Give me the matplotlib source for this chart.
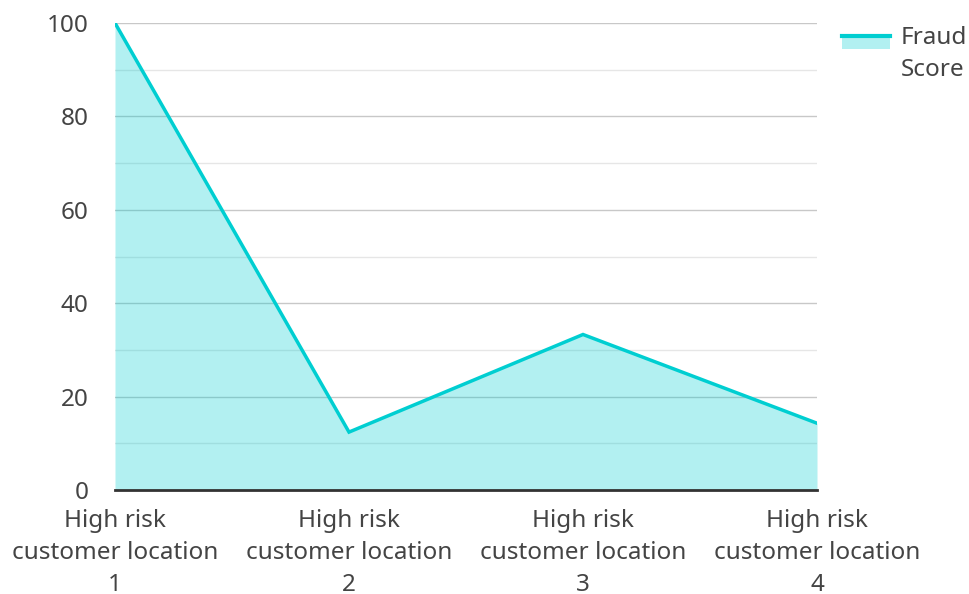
import matplotlib
matplotlib.use('Agg')
import matplotlib.pyplot as plt
from matplotlib.patches import Rectangle
from matplotlib.lines import Line2D
from matplotlib.legend_handler import HandlerBase

categories = ['High risk\ncustomer location\n1', 'High risk\ncustomer location\n2',
              'High risk\ncustomer location\n3', 'High risk\ncustomer location\n4']
fraud_score = [100, 12.4, 33.3, 14.3]

teal = '#00CED1'
txt = '#444444'
fsize = 17.5
plt.rcParams['font.family'] = ['Noto Sans', 'DejaVu Sans']


class AreaHandler(HandlerBase):
    # line on top edge of a filled patch, like the reference legend
    def create_artists(self, legend, orig_handle, xdescent, ydescent, width, height, fontsize, trans):
        top = height * 1.6
        rect = Rectangle((-xdescent, top - height * 0.77), width, height * 0.77,
                         facecolor=teal, alpha=0.3, edgecolor='none', transform=trans)
        line = Line2D([-xdescent, -xdescent + width], [top, top], color=teal, linewidth=3, transform=trans)
        return [rect, line]


fig = plt.figure(figsize=(9.69, 5.94), dpi=100)
ax = fig.add_axes([115/969, 1 - 490/594, (817 - 115)/969, (490 - 23)/594])

x = list(range(len(categories)))
ax.fill_between(x, fraud_score, 0, color=teal, alpha=0.3, linewidth=0, zorder=2)
ax.plot(x, fraud_score, color=teal, linewidth=2.5, zorder=3, solid_joinstyle='miter')

ax.set_xlim(0, len(categories) - 1)
ax.set_ylim(0, 100)
ax.set_yticks(range(0, 101, 20))
ax.set_yticks(range(10, 100, 20), minor=True)
ax.set_xticks(x)
ax.set_xticklabels(categories)

ax.grid(axis='y', which='major', color='#c8c8c8', linewidth=1, zorder=1)
ax.grid(axis='y', which='minor', color='#e6e6e6', linewidth=1, zorder=1)
ax.grid(axis='x', visible=False)
for side in ['top', 'right', 'left']:
    ax.spines[side].set_visible(False)
ax.spines['bottom'].set_color('#333333')
ax.spines['bottom'].set_linewidth(2)
ax.spines['bottom'].set_zorder(4)
ax.tick_params(axis='both', which='both', length=0, labelsize=fsize, colors=txt)
ax.tick_params(axis='y', pad=19)
ax.tick_params(axis='x', pad=13.6)
for lab in ax.get_xticklabels():
    lab.set_linespacing(1.45)

leg = fig.legend([object()], ['Fraud\nScore'], handler_map={object: AreaHandler()},
                 loc='upper left', bbox_to_anchor=(842/969, 1 - 26/594),
                 frameon=False, fontsize=fsize, labelcolor=txt, handlelength=1.97, handletextpad=0.45,
                 borderaxespad=0, borderpad=0)
for t in leg.get_texts():
    t.set_linespacing(1.45)

plt.savefig('out.png', dpi=100)
